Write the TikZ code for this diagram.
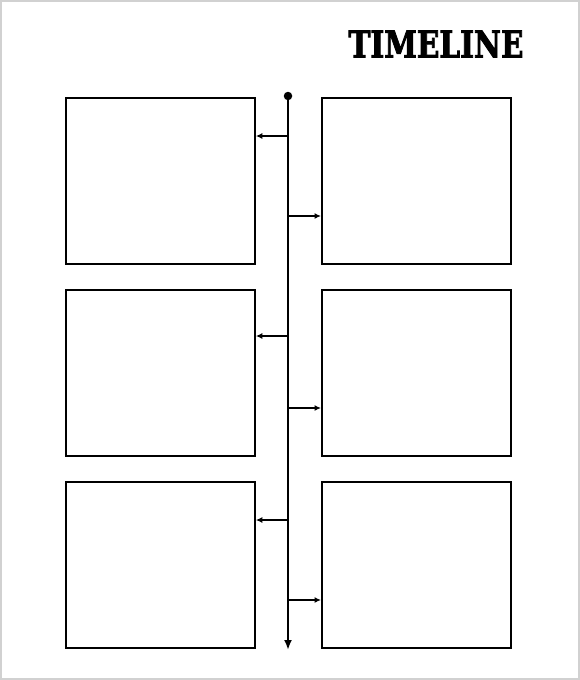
\documentclass[tikz,border=0pt]{standalone}
\usepackage{fontspec}
\newfontfamily\titlefont{DejaVu Serif}[BoldFeatures={FakeBold=2.5}]
\usetikzlibrary{arrows.meta}
\begin{document}
\begin{tikzpicture}[x=1pt,y=-1pt,
  box/.style={draw=black,line width=1.8pt,minimum width=189pt,minimum height=166pt,anchor=north west,inner sep=0pt},
  branch/.style={line width=1.3pt,-{Latex[length=6.5pt,width=6pt]}},
  axisline/.style={line width=2.5pt,-{Latex[length=10pt,width=8pt]},shorten >=-1pt}]
\useasboundingbox (0,0) rectangle (580,680);
\draw[black!18,line width=1.2pt] (1,1) rectangle (579,679);
\node[anchor=center] (title) at (436,44) {\resizebox{175pt}{27pt}{\titlefont\bfseries TIMELINE}};
\node[box] (b1) at (65,97) {};
\node[box] (b2) at (321,97) {};
\node[box] (b3) at (65,289) {};
\node[box] (b4) at (321,289) {};
\node[box] (b5) at (65,481) {};
\node[box] (b6) at (321,481) {};
\node[circle,fill=black,inner sep=0pt,minimum size=8.5pt] (top) at (288,96) {};
\coordinate (bot) at (288,649);
\draw[axisline] (top.center) -- (bot);
\coordinate (a1) at (288,136);
\coordinate (a2) at (288,216);
\coordinate (a3) at (288,336);
\coordinate (a4) at (288,408);
\coordinate (a5) at (288,520);
\coordinate (a6) at (288,600);
\draw[branch] (a1) -- (a1 -| b1.east);
\draw[branch] (a2) -- (a2 -| b2.west);
\draw[branch] (a3) -- (a3 -| b3.east);
\draw[branch] (a4) -- (a4 -| b4.west);
\draw[branch] (a5) -- (a5 -| b5.east);
\draw[branch] (a6) -- (a6 -| b6.west);
\end{tikzpicture}
\end{document}
